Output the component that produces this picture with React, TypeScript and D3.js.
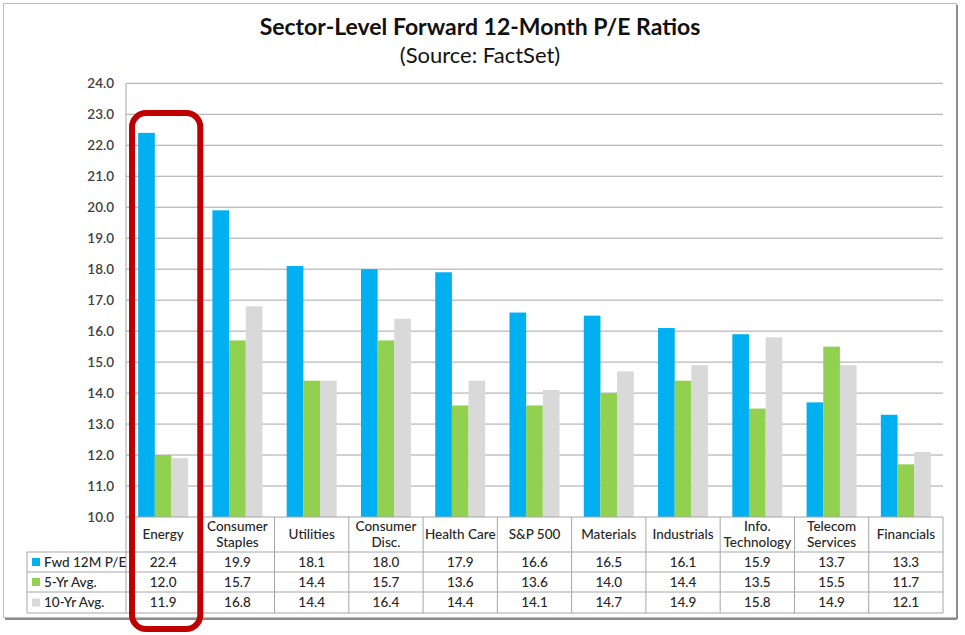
import React from "react";
import * as d3 from "d3";

const categories = [
  "Energy",
  "Consumer\nStaples",
  "Utilities",
  "Consumer\nDisc.",
  "Health Care",
  "S&P 500",
  "Materials",
  "Industrials",
  "Info.\nTechnology",
  "Telecom\nServices",
  "Financials",
];
const fwdPE = [22.4, 19.9, 18.1, 18.0, 17.9, 16.6, 16.5, 16.1, 15.9, 13.7, 13.3];
const avg5 = [12.0, 15.7, 14.4, 15.7, 13.6, 13.6, 14.0, 14.4, 13.5, 15.5, 11.7];
const avg10 = [11.9, 16.8, 14.4, 16.4, 14.4, 14.1, 14.7, 14.9, 15.8, 14.9, 12.1];
const seriesNames = ["Fwd 12M P/E", "5-Yr Avg.", "10-Yr Avg."];
const yTicks = [10, 11, 12, 13, 14, 15, 16, 17, 18, 19, 20, 21, 22, 23, 24];

const colors = ["#00b0f0", "#92d050", "#d9d9d9"];
const font = "Lato, 'Open Sans', sans-serif";

const App = () => {
  const W = 965;
  const H = 635;
  const left = 126;
  const right = 943;
  const top = 83.3;
  const base = 517;

  const series = [fwdPE, avg5, avg10];

  const x = d3.scaleBand<string>().domain(categories).range([left, right]).paddingInner(0).paddingOuter(0);
  const inner = d3.scaleBand<number>().domain([0, 1, 2]).range([0, 50]);
  const groupOffset = (x.bandwidth() - 50) / 2;
  const y = d3.scaleLinear().domain([10, 24]).range([base, top]);

  const rowLines = [base, 552, 572, 592, 613];
  const tableLeft = 27;
  const gridColor = "#a6a6a6";
  const textColor = "#262626";

  return (
    <svg
      width={W}
      height={H}
      style={{ position: "absolute", left: 0, top: 0, background: "#fff", display: "block" }}
    >
      {/* outer frame */}
      <rect x={3.5} y={3.5} width={953} height={614} fill="#fff" stroke="#bdbdbd" strokeWidth={1} />
      <line x1={957} y1={5} x2={957} y2={619} stroke="#8c8c8c" strokeWidth={2} />
      <line x1={5} y1={619} x2={957} y2={619} stroke="#8c8c8c" strokeWidth={2} />

      {/* title */}
      <text x={480} y={35} textAnchor="middle" fontFamily={font} fontWeight={700} fontSize={23} fill="#111">
        Sector-Level Forward 12-Month P/E Ratios
      </text>
      <text x={480} y={63} textAnchor="middle" fontFamily={font} fontSize={22} fill="#111">
        (Source: FactSet)
      </text>

      {/* gridlines and y labels */}
      {yTicks.map((t) => (
        <g key={t}>
          {t > 10 && (
            <line x1={left} x2={right} y1={y(t)} y2={y(t)} stroke={gridColor} strokeWidth={1} />
          )}
          <text
            x={114}
            y={y(t)}
            dy="0.35em"
            textAnchor="end"
            fontFamily={font}
            fontSize={13.5}
            fontWeight={600}
            fill="#404040"
          >
            {t.toFixed(1)}
          </text>
        </g>
      ))}
      <line x1={left} x2={left} y1={top} y2={base} stroke={gridColor} strokeWidth={1} />

      {/* bars */}
      {categories.map((c, i) => (
        <g key={c} transform={`translate(${(x(c) ?? 0) + groupOffset},0)`}>
          {series.map((s, k) => (
            <rect
              key={k}
              x={inner(k)}
              y={y(s[i])}
              width={inner.bandwidth()}
              height={base - y(s[i])}
              fill={colors[k]}
            />
          ))}
        </g>
      ))}

      {/* data table */}
      {rowLines.map((ry, k) => (
        <line
          key={ry}
          x1={k === 0 ? left : tableLeft}
          x2={right}
          y1={ry}
          y2={ry}
          stroke={gridColor}
          strokeWidth={1}
        />
      ))}
      <line x1={tableLeft} x2={tableLeft} y1={552} y2={613} stroke={gridColor} strokeWidth={1} />
      {categories.map((c) => (
        <line
          key={"v" + c}
          x1={x(c)}
          x2={x(c)}
          y1={base}
          y2={613}
          stroke={gridColor}
          strokeWidth={1}
        />
      ))}
      <line x1={right} x2={right} y1={base} y2={613} stroke={gridColor} strokeWidth={1} />

      {categories.map((c) => {
        const lines = c.split("\n");
        const cx = (x(c) ?? 0) + x.bandwidth() / 2;
        const cy = (base + 552) / 2;
        return (
          <text key={"h" + c} textAnchor="middle" fontFamily={font} fontSize={13.5} fontWeight={500} fill={textColor}>
            {lines.map((ln, j) => (
              <tspan key={j} x={cx} y={cy + (j - (lines.length - 1) / 2) * 16} dy="0.35em">
                {ln}
              </tspan>
            ))}
          </text>
        );
      })}

      {series.map((s, k) => {
        const cy = (rowLines[k + 1] + rowLines[k + 2]) / 2;
        return (
          <g key={"r" + k}>
            <rect x={32} y={cy - 4} width={8} height={8} fill={colors[k]} />
            <text x={44} y={cy} dy="0.35em" fontFamily={font} fontSize={13.5} fontWeight={500} fill={textColor}>
              {seriesNames[k]}
            </text>
            {categories.map((c, i) => (
              <text
                key={c}
                x={(x(c) ?? 0) + x.bandwidth() / 2}
                y={cy}
                dy="0.35em"
                textAnchor="middle"
                fontFamily={font}
                fontSize={13.5}
                fontWeight={500}
                fill={textColor}
              >
                {s[i].toFixed(1)}
              </text>
            ))}
          </g>
        );
      })}

      {/* highlight box around Energy */}
      <rect
        x={(x(categories[0]) ?? 0) + 6}
        y={113}
        width={x.bandwidth() - 6}
        height={516}
        rx={14}
        fill="none"
        stroke="#c00000"
        strokeWidth={6}
      />
    </svg>
  );
};

export default App;
